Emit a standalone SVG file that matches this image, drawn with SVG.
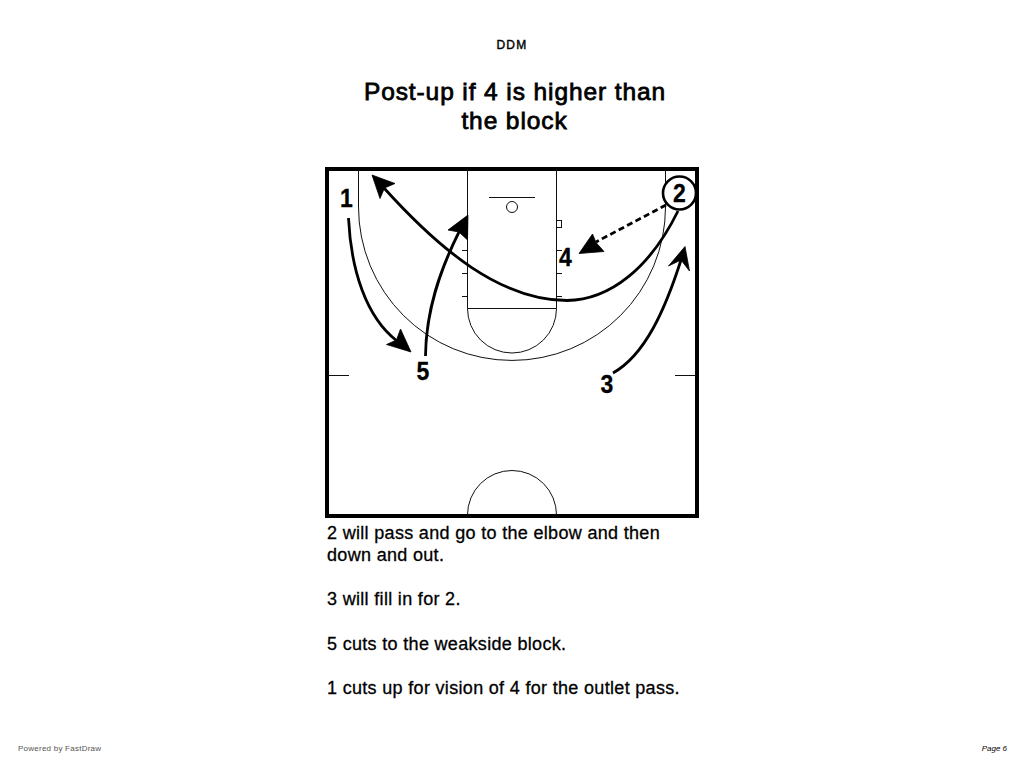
<svg xmlns="http://www.w3.org/2000/svg" width="1024" height="768" viewBox="0 0 1024 768">
<style>
text{font-family:"Liberation Sans",Arial,sans-serif;fill:#000}
.court{fill:none;stroke:#111;stroke-width:1}
.run{fill:none;stroke:#000;stroke-width:2.8}
.head{fill:#000;stroke:#000;stroke-width:.8;stroke-linejoin:miter}
.num{font-size:25px;font-weight:700;text-anchor:middle;stroke:#000;stroke-width:.3}
.title{font-size:24.5px;text-anchor:middle;stroke:#000;stroke-width:.8;letter-spacing:.9px}
.body{font-size:18px;stroke:#000;stroke-width:.3;letter-spacing:.32px}
</style>
<rect width="1024" height="768" fill="#fff"/>
<text x="512" y="49" font-size="12" letter-spacing="1.3" text-anchor="middle" stroke="#000" stroke-width=".4">DDM</text>
<text class="title" x="515" y="100">Post-up if 4 is higher than</text>
<text class="title" x="514.500" y="129">the block</text>
<g id="court">
<rect x="327" y="169" width="370" height="347" fill="none" stroke="#000" stroke-width="4"/>
<path class="court" d="M467.5 169V308.5M556.5 169V308.5M467.5 308.5H556.5M467.5 308.5A44.5 44.5 0 0 0 556.5 308.5"/>
<path class="court" d="M358.5 170V207A153.5 153.5 0 0 0 665.5 207V170"/>
<path class="court" d="M467.5 515A44.5 44.5 0 0 1 556.5 515"/>
<path class="court" d="M328 375.500H349M675 375.500H696M489 197.500H535M462 250.500H467.500M462 273.500H467.500M462 296.500H467.500M556.500 250.500H562M556.500 273.500H562M556.500 296.500H562"/>
<circle class="court" cx="512" cy="207" r="5.5"/>
<rect class="court" x="556.5" y="220.5" width="5" height="7"/>
</g>
<g id="connectors">
<path class="run" d="M348.500 218C351 270 366 317 397 341"/>
<polygon class="head" points="411,352 386.500,344.500 396.500,340 400.500,329"/>
<path class="run" d="M425.500 356C426 310 440 270 459 232"/>
<polygon class="head" points="468,215 467.500,240 459,232 448,230"/>
<path class="run" d="M678 211C650 268 610 300 567 300.500C500 300 440 250 384 188"/>
<polygon class="head" points="372,175 395,183.500 384.500,188 380,198.500"/>
<path class="run" d="M613 373C645 355 665 310 681 260"/>
<polygon class="head" points="685,246.500 689.500,271 681,260 668.500,266"/>
<path class="run" stroke-dasharray="6 3.500" d="M666 205L596 242"/>
<polygon class="head" points="579,253.500 592.500,234 596,242.500 604,251.500"/>
</g>
<g id="p1"><text class="num" transform="translate(346.500 206.500) scale(.92 1.03)">1</text></g>
<g id="p2"><circle cx="679.500" cy="193" r="16.500" fill="#fff" stroke="#000" stroke-width="2.600"/><text class="num" transform="translate(679.500 202) scale(.92 1.03)">2</text></g>
<g id="p3"><text class="num" transform="translate(607 393) scale(.92 1.03)">3</text></g>
<g id="p4"><text class="num" transform="translate(565.500 266) scale(.92 1.03)">4</text></g>
<g id="p5"><text class="num" transform="translate(423 380) scale(.92 1.03)">5</text></g>
<g id="notes">
<text class="body" x="327" y="539">2 will pass and go to the elbow and then</text>
<text class="body" x="327" y="561">down and out.</text>
<text class="body" x="327" y="605">3 will fill in for 2.</text>
<text class="body" x="327" y="650">5 cuts to the weakside block.</text>
<text class="body" x="327" y="694">1 cuts up for vision of 4 for the outlet pass.</text>
</g>
<text x="18" y="751" font-size="8" letter-spacing=".24" style="fill:#555">Powered by FastDraw</text>
<text x="1007" y="751" font-size="8" font-style="italic" text-anchor="end">Page 6</text>
</svg>
